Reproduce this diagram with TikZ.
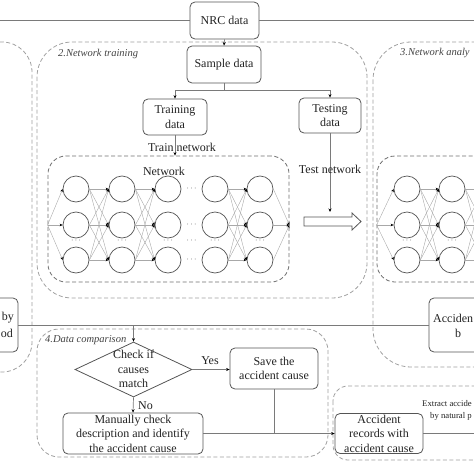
\documentclass[tikz,border=0pt]{standalone}
\usepackage{fontspec}
\setmainfont{Liberation Serif}
\usetikzlibrary{arrows.meta,shapes.geometric,calc}
\definecolor{boxc}{HTML}{555555}
\definecolor{dashc}{HTML}{A0A0A0}
\definecolor{linec}{HTML}{7A7A7A}
\definecolor{nlc}{HTML}{A8A8A8}
\definecolor{txtc}{HTML}{222222}
\begin{document}
\begin{tikzpicture}[x=1pt,y=-1pt,
  box/.style={draw=boxc, line width=0.8pt, rounded corners=5pt, align=center,
    font=\fontsize{12}{14.5}\selectfont, text=txtc, inner sep=0pt},
  region/.style={draw=dashc, dash pattern=on 4pt off 2.5pt, line width=0.8pt},
  netbox/.style={draw=boxc!85, dash pattern=on 4pt off 2.5pt, line width=0.8pt, rounded corners=18pt, inner sep=0pt},
  conn/.style={draw=linec, line width=0.7pt},
  arr/.style={conn, -{Stealth[length=3.5pt,width=3pt,color=black]}},
  neuron/.style={circle, draw=boxc, line width=0.7pt, minimum size=26pt, inner sep=0pt},
  nl/.style={draw=nlc, line width=0.4pt, -{Stealth[length=3pt,width=2.5pt,color=black]}},
  rlabel/.style={font=\fontsize{10.5}{12}\selectfont\itshape, text=txtc!85, anchor=west, inner sep=0pt},
  lbl/.style={font=\fontsize{12}{14}\selectfont, text=txtc, inner sep=0pt},
  small/.style={font=\fontsize{8.7}{10}\selectfont, text=txtc, anchor=west, inner sep=0pt},
  dotsl/.style={font=\fontsize{8}{8}\selectfont, text=txtc, inner sep=0pt}
]
\useasboundingbox (0,0) rectangle (474,474);
\clip (0,0) rectangle (474,474);

% dashed regions
\draw[region, rounded corners=30pt] (-200,42) rectangle (32,372);
\draw[region, rounded corners=35pt] (37,42) rectangle (367,298);
\draw[region, rounded corners=38pt] (373,42) rectangle (640,367);
\draw[region, rounded corners=22pt] (37,329) rectangle (328,457);
\draw[region, rounded corners=15pt] (333,386) rectangle (640,460);

\node[rlabel] (l2) at (58,54) {2.Network training};
\node[rlabel] (l3) at (400,53) {3.Network analy};
\node[rlabel] (l4) at (45,340) {4.Data comparison};

% top boxes
\node[box, minimum width=69pt, minimum height=37pt] (nrc) at (224.5,20.5) {NRC data};
\node[box, minimum width=74pt, minimum height=37pt] (sample) at (224,64.5) {Sample data};
\node[box, minimum width=64pt, minimum height=36pt] (train) at (175,117) {Training\\data};
\node[box, minimum width=62pt, minimum height=35pt] (test) at (330,115.5) {Testing\\data};

\coordinate (nrcL) at (0,20.5);
\coordinate (nrcR) at (474,20.5);
\draw[conn] (nrc.west) -- (nrcL);
\draw[conn] (nrc.east) -- (nrcR);
\draw[arr] (nrc.south) -- (sample.north);
\draw[conn] (sample.south) -- ++(0,7) coordinate (sj);
\draw[arr] (sj) -| (train.north);
\draw[arr] (sj) -| (test.north);

% network boxes
\node[netbox, minimum width=241pt, minimum height=126pt] (netA) at (168.5,219) {};
\node[netbox, minimum width=263pt, minimum height=126pt] (netB) at (508.5,219) {};
\node[lbl] (netlabel) at (164,171) {Network};

\draw[arr] (train.south) -- (train.south |- netA.north);
\node[lbl] (trainlbl) at (182,147) {Train network};

% hollow arrow
\coordinate (ha) at (330,212);
\draw[boxc, line width=0.8pt, fill=white] (304,217) -- (352,217) -- (352,213) -- (361,221.5) -- (352,230) -- (352,226) -- (304,226) -- cycle;
\draw[arr] (test.south) -- (ha);
\node[lbl] (testlbl) at (330,169) {Test network};

% network A
\foreach \c/\x in {1/76,2/122,3/168,4/215,5/260}
  \foreach \r/\y in {1/189,2/225,3/260}
    \node[neuron] (a-\c-\r) at (\x,\y) {};
\foreach \r in {1,2,3} {
  \draw[nl] (netA.west |- a-1-2) -- (a-1-\r.west);
  \draw[nl] (a-5-\r.east) -- (netA.east |- a-5-2);
}
\foreach \s in {1,2,3} \foreach \t in {1,2,3} {
  \draw[nl] (a-1-\s.east) -- (a-2-\t.west);
  \draw[nl] (a-2-\s.east) -- (a-3-\t.west);
  \draw[nl] (a-4-\s.east) -- (a-5-\t.west);
}
\foreach \x in {76,122,168,191.5,215,260} \node[dotsl] at (\x,241) {$\cdots$};
\foreach \y in {189,225,260} \node[dotsl] at (191.5,\y) {$\cdots$};

% network B
\foreach \c/\x in {1/407,2/452,3/497}
  \foreach \r/\y in {1/189,2/225,3/260}
    \node[neuron] (b-\c-\r) at (\x,\y) {};
\foreach \r in {1,2,3}
  \draw[nl] (netB.west |- b-1-2) -- (b-1-\r.west);
\foreach \s in {1,2,3} \foreach \t in {1,2,3} {
  \draw[nl] (b-1-\s.east) -- (b-2-\t.west);
  \draw[nl] (b-2-\s.east) -- (b-3-\t.west);
}
\foreach \x in {407,452} \node[dotsl] at (\x,241) {$\cdots$};

% side boxes
\node[box, minimum width=60pt, minimum height=54pt] (lbox) at (-12,325) {};
\node[lbl, anchor=east] (lby) at (14,318) {by};
\node[lbl, anchor=east] (lod) at (13,333) {od};
\node[box, minimum width=100pt, minimum height=54pt] (acc) at (479,325) {};
\node[lbl, anchor=west] (acc1) at (433,318) {Acciden};
\node[lbl, anchor=west] (acc2) at (455,333) {b};
\draw[conn] (lbox.east) -- (acc.west);

% data comparison
\node[diamond, draw=boxc, line width=0.8pt, minimum width=117pt, minimum height=55pt, inner sep=0pt] (dia) at (133.5,369.5) {};
\node[lbl, align=center, font=\fontsize{12}{14.5}\selectfont] (diatxt) at (133.5,369) {Check if\\causes\\match};
\draw[arr] (lbox.east -| dia.north) -- (dia.north);
\node[box, minimum width=88pt, minimum height=41pt] (save) at (274,368.5) {Save the\\accident cause};
\node[box, minimum width=140pt, minimum height=41pt] (manual) at (133,433.5) {Manually check\\description and identify\\the accident cause};
\node[box, minimum width=88pt, minimum height=40pt] (rec) at (379,433.5) {Accident\\records with\\accident cause};
\draw[arr] (dia.east) -- (save.west |- dia.east);
\node[lbl] (yes) at (210,361) {Yes};
\draw[arr] (dia.south) -- (manual.north);
\node[lbl, anchor=west] (no) at (138,406) {No};
\draw[arr] (manual.east) -- (rec.west);
\draw[conn] (save.south) -- (save.south |- manual.east);
\coordinate (recR) at (474,433.5);
\draw[conn] (rec.east) -- (recR);
\node[small] (ex1) at (422,404) {Extract accide};
\node[small] (ex2) at (430,416) {by natural p};
\end{tikzpicture}
\end{document}
